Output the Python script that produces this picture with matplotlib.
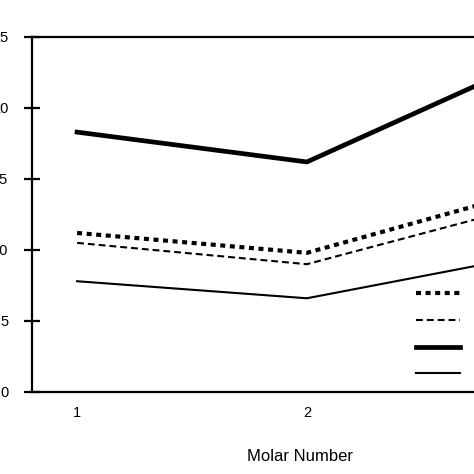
import matplotlib
matplotlib.use("Agg")
import matplotlib.pyplot as plt

plt.rcParams['font.family'] = ['Liberation Sans', 'DejaVu Sans']

# values (molar 3 is beyond the visible crop)
molar = [1, 2, 3]
series_a = [11.2, 9.8, 14.3]   # heavy square dots
series_b = [10.5, 9.0, 13.3]   # dashed
series_c = [18.3, 16.2, 23.5]  # heavy solid
series_d = [7.8, 6.6, 9.7]     # thin solid
names = ['Series A', 'Series B', 'Series C', 'Series D']
yticks = [0, 5, 10, 15, 20, 25]

fig = plt.figure(figsize=(4.74, 4.74), dpi=100)
# axes runs past the right edge, like the cropped original
ax = fig.add_axes([0.0681, 0.173, 1.161, 0.749])

ax.plot(molar, series_a, color='black', lw=3.0, linestyle=(0, (1.2, 1.1)),
        dash_capstyle='butt', label=names[0])
ax.plot(molar, series_b, color='black', lw=1.5, linestyle=(0, (3.3, 1.9)),
        label=names[1])
ax.plot(molar, series_c, color='black', lw=3.4, label=names[2])
ax.plot(molar, series_d, color='black', lw=1.5, label=names[3])

ax.set_xlim(0.805, 3.2)
ax.set_ylim(0, 25)
ax.set_xticks(molar)
ax.set_yticks(yticks)

for side in ['left', 'bottom', 'top', 'right']:
    ax.spines[side].set_linewidth(1.6)

ax.tick_params(axis='y', direction='inout', length=11.5, width=1.6,
               pad=11.5, labelsize=10.5)
ax.tick_params(axis='x', length=0, pad=10, labelsize=10.5)

ax.set_xlabel('Molar Number', fontsize=12)
ax.xaxis.set_label_coords(0.487, -0.16)

# legend labels sit past the right edge, as in the cropped source
ax.legend(loc='upper left', bbox_to_anchor=(416 / 474, 1 - 287 / 474),
          bbox_transform=fig.transFigure, frameon=False, fontsize=10.5,
          borderpad=0, borderaxespad=0, handlelength=3.0,
          labelspacing=0.88, handletextpad=1.6)

fig.savefig('out.png', dpi=100)
